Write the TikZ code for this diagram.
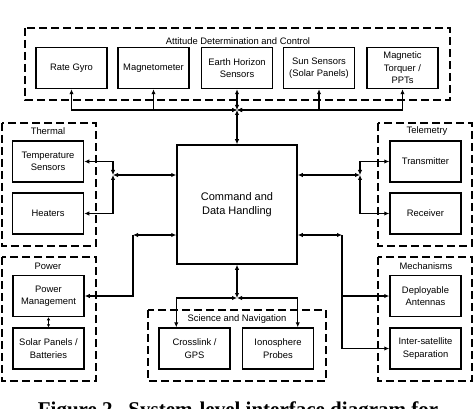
\documentclass[tikz,border=0pt]{standalone}
\usepackage{fontspec}
\setmainfont{Liberation Sans}
\newfontfamily\capfont{Liberation Serif}
\usetikzlibrary{arrows.meta}

\begin{document}
\begin{tikzpicture}[x=1pt, y=-1pt,
    blk/.style={draw, line width=1.5pt, minimum width=71pt, minimum height=41pt,
        align=center, inner sep=1pt, font=\fontsize{9.4}{12.5}\selectfont},
    grp/.style={draw, line width=1.8pt, dash pattern=on 8pt off 4pt},
    ttl/.style={inner sep=0pt, font=\fontsize{9.4}{11}\selectfont},
    both/.style={line width=1.3pt, {Latex[length=5pt,width=4.5pt]}-{Latex[length=5pt,width=4.5pt]}},
    one/.style={line width=1.3pt, -{Latex[length=5pt,width=4.5pt]}}]
    \clip (0,0) rectangle (474,409);
    \fill[white] (0,0) rectangle (474,409);
    \draw[grp] (25,28) rectangle (450,100);
    \draw[grp] (2,123) rectangle (96,246);
    \draw[grp] (378,123) rectangle (472,246);
    \draw[grp] (2,257) rectangle (96,381);
    \draw[grp] (378,257) rectangle (472,381);
    \draw[grp] (148,310) rectangle (326,381);
    \node[ttl] (tadc) at (238,41.5) {Attitude Determination and Control};
    \node[ttl] (tth) at (48,131) {Thermal};
    \node[ttl] (ttm) at (427,131) {Telemetry};
    \node[ttl] (tpw) at (48,266) {Power};
    \node[ttl] (tme) at (426,266) {Mechanisms};
    \node[ttl] (tsc) at (237,319) {Science and Navigation};
    \foreach \x/\n/\t in {71.5/rg/{Rate Gyro}, 153.5/mag/{Magnetometer},
        237/ehs/{Earth Horizon\\Sensors}, 319/sun/{Sun Sensors\\(Solar Panels)},
        402.5/mtq/{Magnetic\\Torquer /\\PPTs}}
        \node[blk] (\n) at (\x,68) {\t};
    \node[blk] (ts) at (48,161.5) {Temperature\\Sensors};
    \node[blk] (ht) at (48,213.5) {Heaters};
    \node[blk] (tx) at (425.5,161.5) {Transmitter};
    \node[blk] (rx) at (425.5,213.5) {Receiver};
    \node[blk] (pm) at (48.5,296) {Power\\Management};
    \node[blk] (sp) at (48.5,348.5) {Solar Panels /\\Batteries};
    \node[blk] (da) at (425.5,296) {Deployable\\Antennas};
    \node[blk] (iss) at (425.5,348.5) {Inter-satellite\\Separation};
    \node[blk] (gps) at (194.5,348.5) {Crosslink /\\GPS};
    \node[blk] (ip) at (278,348.5) {Ionosphere\\Probes};
    \node[draw, line width=1.5pt, minimum width=120pt, minimum height=119pt, align=center,
        font=\fontsize{11}{13.5}\selectfont] (cdh) at (237,204.5) {Command and\\Data Handling};
    \coordinate (ja) at (237,110);
    \coordinate (jt) at (113,175);
    \coordinate (jr) at (360,175);
    \coordinate (js) at (237,298);
    \coordinate (cl) at (133,235);
    \coordinate (cr) at (342,235);
    \foreach \n in {rg,mag,sun,mtq} \draw[both] (ja) -| (\n.south);
    \draw[both] (ja) -- (ehs.south);
    \draw[both] (cdh.north) -- (ja);
    \draw[both] (jt) -- (jt -| cdh.west);
    \draw[both] (jt) |- (ts.east);
    \draw[both] (jt) |- (ht.east);
    \draw[both] (jr) -- (jr -| cdh.east);
    \draw[both] (jr) |- (tx.west);
    \draw[both] (jr) |- (rx.west);
    \draw[both] (cl) -- (cl -| cdh.west);
    \draw[one] (cl) |- (pm.east);
    \draw[both] (cr) -- (cr -| cdh.east);
    \draw[one] (cr) |- (da.west);
    \draw[one] (cr) |- (iss.west);
    \draw[both] (cdh.south) -- (js);
    \draw[both] (js) -| (gps.north -| cdh.west);
    \draw[both] (js) -| (ip.north -| cdh.east);
    \draw[line width=1.3pt, {Latex[length=3pt,width=3.5pt]}-{Latex[length=3pt,width=3.5pt]}] (pm.south) -- (sp.north);
    \node[anchor=base, inner sep=0pt, font=\capfont\bfseries\fontsize{21}{21}\selectfont] (cap) at (238,416)
        {Figure 2.\ \ System-level interface diagram for};
\end{tikzpicture}
\end{document}
